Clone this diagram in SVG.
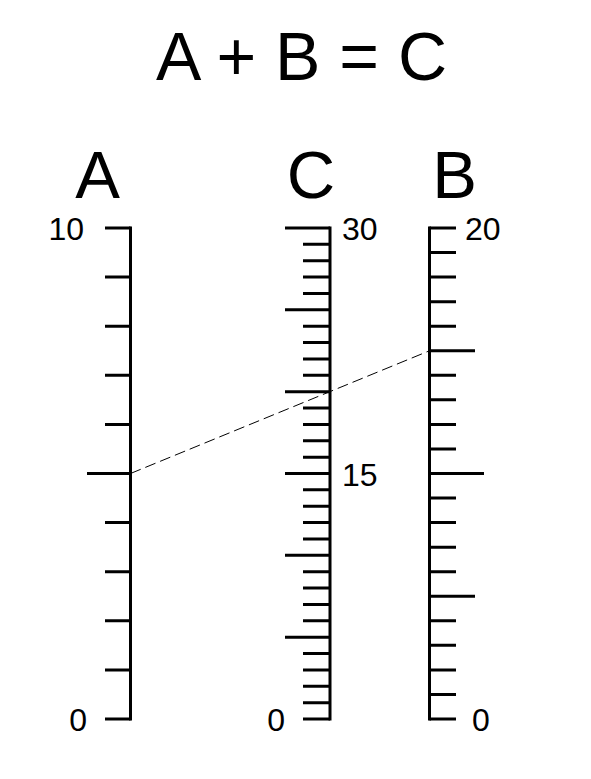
<svg xmlns="http://www.w3.org/2000/svg" width="591" height="779" viewBox="0 0 591 779">
<style>
text{font-family:"Liberation Sans",Arial,sans-serif;fill:#000}
.big{font-size:67px;text-anchor:middle}
.ttl{font-size:68px;text-anchor:middle}
.num{font-size:32px}
.axis,.tick{stroke:#000;stroke-width:3;fill:none;stroke-linecap:butt}
.guide{stroke:#000;stroke-width:1;stroke-dasharray:11 5;fill:none}
</style>
<rect width="591" height="779" fill="#fff"/>
<text id="title" class="ttl" x="301.5" y="80">A + B = C</text>

<g id="scale-A">
<text class="big" x="97.5" y="198">A</text>
<line class="axis" x1="130.5" y1="226.5" x2="130.5" y2="720.5"/>
<path class="tick" d="M105 719H130.5M105 669.9H130.5M105 620.8H130.5M105 571.7H130.5M105 522.6H130.5M87 473.5H130.5M105 424.4H130.5M105 375.3H130.5M105 326.2H130.5M105 277.1H130.5M105 228H130.5"/>
<text class="num" x="84" y="240" text-anchor="end">10</text>
<text class="num" x="87" y="731" text-anchor="end">0</text>
</g>

<g id="scale-C">
<text class="big" x="311" y="198">C</text>
<line class="axis" x1="330" y1="226.5" x2="330" y2="720.5"/>
<path class="tick" d="M303 719H330M303 702.63H330M303 686.27H330M303 669.9H330M303 653.53H330M285 637.17H330M303 620.8H330M303 604.43H330M303 588.07H330M303 571.7H330M285 555.33H330M303 538.97H330M303 522.6H330M303 506.23H330M303 489.87H330M285 473.5H330M303 457.13H330M303 440.77H330M303 424.4H330M303 408.03H330M285 391.67H330M303 375.3H330M303 358.93H330M303 342.57H330M303 326.2H330M285 309.83H330M303 293.47H330M303 277.1H330M303 260.73H330M303 244.37H330M285 228H330"/>
<text class="num" x="342" y="240">30</text>
<text class="num" x="342" y="486">15</text>
<text class="num" x="285" y="731" text-anchor="end">0</text>
</g>

<g id="scale-B">
<text class="big" x="454.5" y="198">B</text>
<line class="axis" x1="429.5" y1="226.5" x2="429.5" y2="720.5"/>
<path class="tick" d="M429.5 719H456M429.5 694.45H456M429.5 669.9H456M429.5 645.35H456M429.5 620.8H456M429.5 596.25H475M429.5 571.7H456M429.5 547.15H456M429.5 522.6H456M429.5 498.05H456M429.5 473.5H484M429.5 448.95H456M429.5 424.4H456M429.5 399.85H456M429.5 375.3H456M429.5 350.75H475M429.5 326.2H456M429.5 301.65H456M429.5 277.1H456M429.5 252.55H456M429.5 228H456"/>
<text class="num" x="465" y="240">20</text>
<text class="num" x="472" y="731">0</text>
</g>

<g id="connectors">
<line class="guide" x1="130.5" y1="473.5" x2="429.5" y2="350.75"/>
</g>
</svg>
